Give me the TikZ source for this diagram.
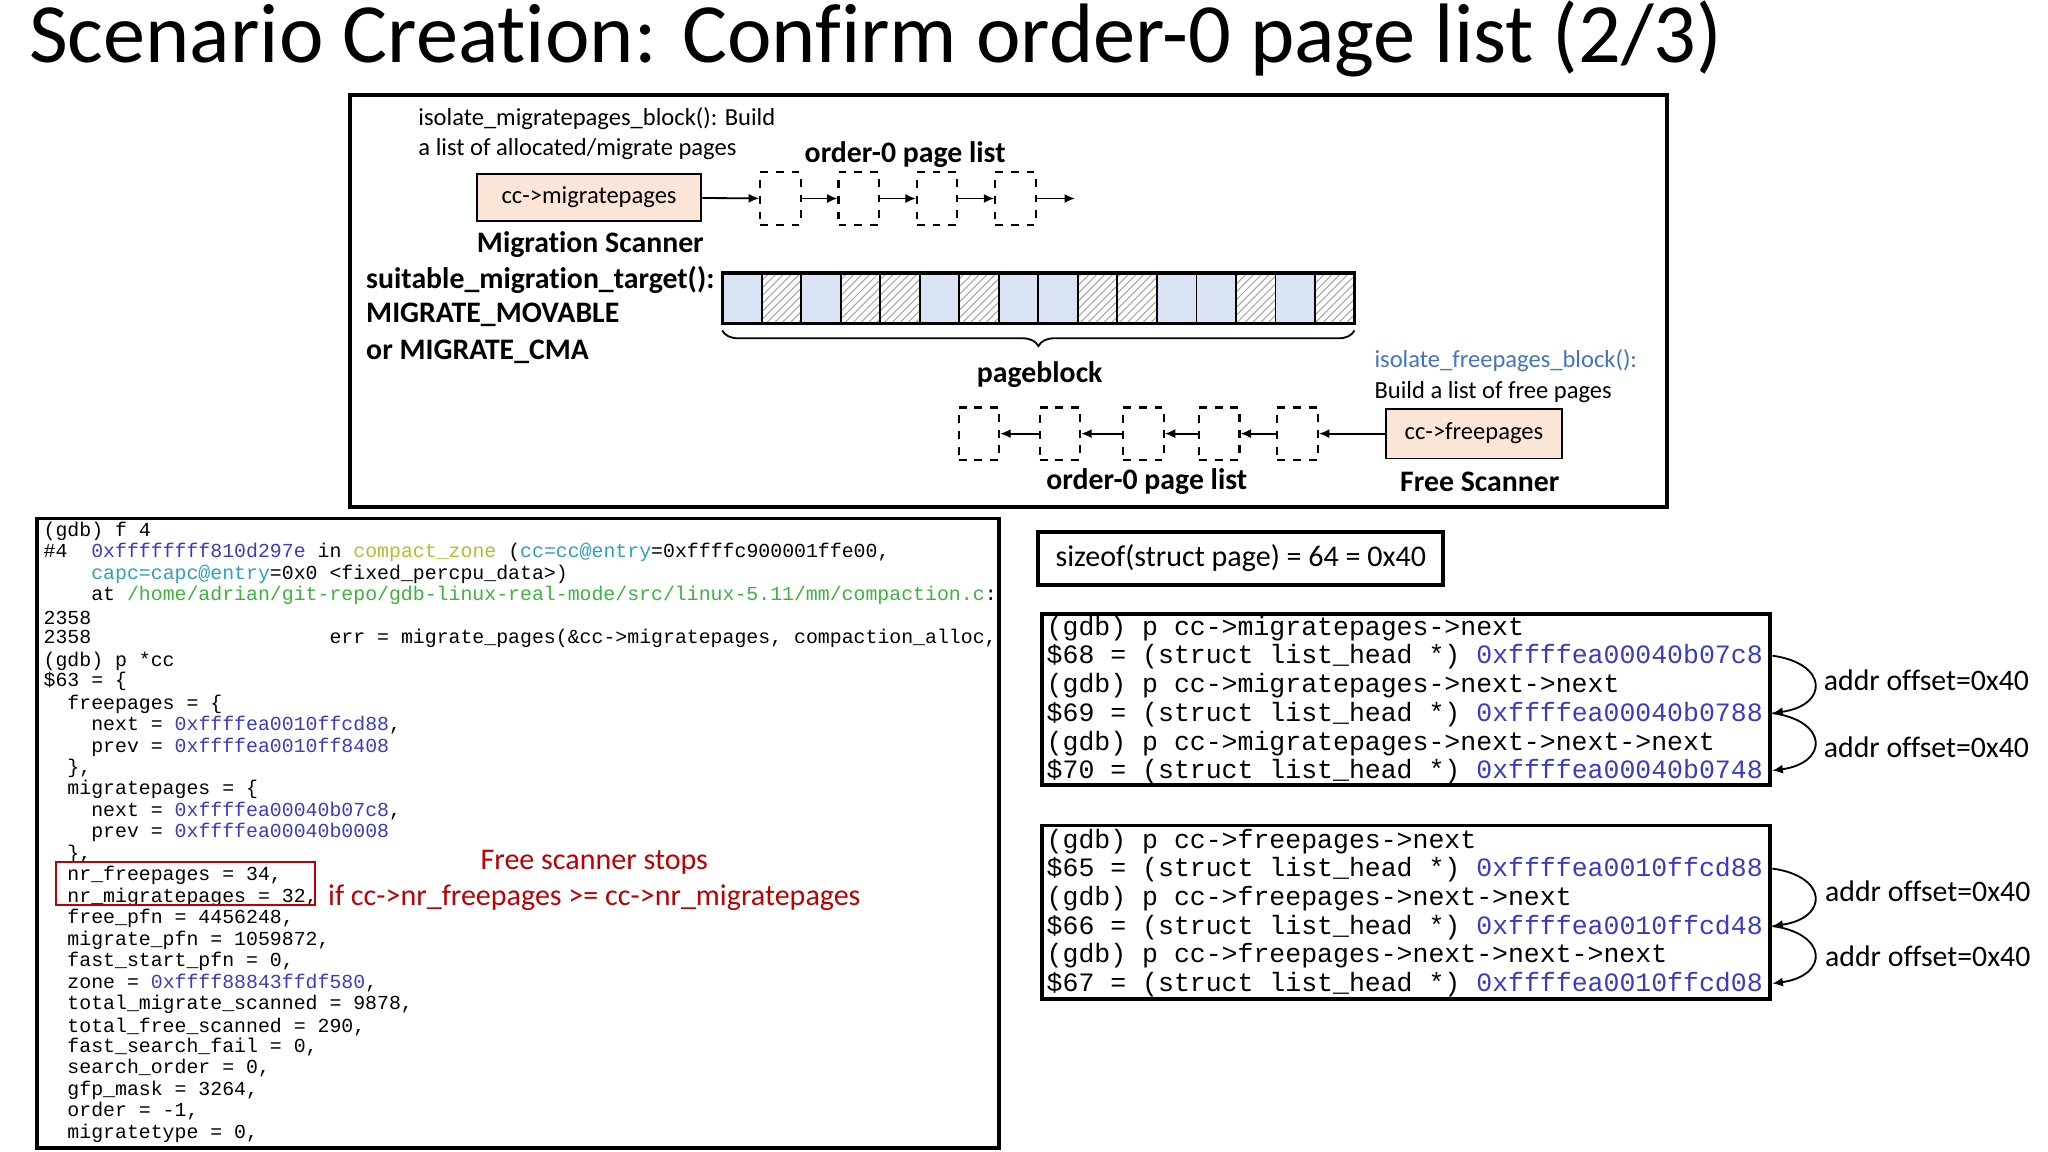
\documentclass[tikz,border=0pt]{standalone}
\usepackage{fontspec}
\setmainfont{Carlito}[Ligatures={NoCommon}]
\setmonofont{Liberation Mono}
\usetikzlibrary{arrows.meta,patterns,decorations.pathreplacing}
\definecolor{peach}{HTML}{FBE5D6}
\definecolor{cellblue}{HTML}{DAE3F3}
\definecolor{adblue}{HTML}{3A3AC8}
\definecolor{fnyel}{HTML}{BDB830}
\definecolor{argcy}{HTML}{2CA0C0}
\definecolor{pathgr}{HTML}{3CB43C}
\definecolor{dred}{HTML}{C00000}
\definecolor{fblue}{HTML}{4472C4}
\newcommand{\ad}[1]{\textcolor{adblue}{#1}}
\begin{document}
\begin{tikzpicture}[x=0.5pt,y=-0.5pt,
  frame/.style={draw,line width=1.5pt},
  lbl/.style={font=\fontsize{9.4}{10}\selectfont,inner sep=0},
  bl/.style={font=\fontsize{11.4}{12}\selectfont\bfseries,inner sep=0},
  pg/.style={draw,dashed,line width=0.8pt,minimum width=15.5pt,minimum height=20pt,inner sep=0},
  arr/.style={-{Latex[length=4pt,width=3.5pt]},line width=0.7pt},
  code/.style={anchor=west,inner sep=0,font=\fontsize{7.6}{8}\ttfamily},
  gdb/.style={anchor=west,inner sep=0,font=\fontsize{10.15}{11}\ttfamily},
  curv/.style={-{Latex[length=4pt,width=3.5pt]},line width=0.7pt},
  off/.style={anchor=west,inner sep=0,font=\fontsize{11.4}{12}\selectfont}]
\useasboundingbox (0,0) rectangle (1568,882);
% title
\node[anchor=west,inner sep=0,font=\fontsize{32.3}{34}\selectfont] (title) at (22,30) {Scenario Creation: Confirm order-0 page list (2/3)};
% top frame
\node[frame,minimum width=504pt,minimum height=157.5pt,inner sep=0] (top) at (772,230.5) {};
\node[lbl,anchor=west] (t1) at (320,91) {isolate\_migratepages\_block(): Build};
\node[lbl,anchor=west] (t2) at (320,114) {a list of allocated/migrate pages};
\node[draw,fill=peach,line width=0.7pt,minimum width=86pt,minimum height=18pt,inner sep=0,font=\fontsize{9.4}{10}\selectfont] (mp) at (451,151) {cc->migratepages};
\node[bl] (ol1) at (693,118) {order-0 page list};
\node[pg] (a1) at (597.5,152) {};
\node[pg] (a2) at (657.5,152) {};
\node[pg] (a3) at (717.5,152) {};
\node[pg] (a4) at (777.5,152) {};
\coordinate (aend) at (823,152);
\draw[arr] (mp) -- (a1);
\draw[arr] (a1) -- (a2);
\draw[arr] (a2) -- (a3);
\draw[arr] (a3) -- (a4);
\draw[arr] (a4) -- (aend);
\node[bl] (ms) at (452,187) {Migration Scanner};
\node[bl,anchor=west] (s1) at (280,214) {suitable\_migration\_target():};
\node[bl,anchor=west] (s2) at (280,241) {MIGRATE\_MOVABLE};
\node[bl,anchor=west] (s3) at (280,269) {or MIGRATE\_CMA};
% pageblock cells
\foreach \t [count=\i from 0] in {B,H,B,H,H,B,H,B,B,H,H,B,B,H,B,H}{
  \pgfmathsetmacro{\xa}{553+30.25*\i}
  \if\t B
    \draw[fill=cellblue,line width=0.7pt] (\xa,209) rectangle ++(30.25,39);
  \else
    \draw[pattern=north east lines,pattern color=gray!70,line width=0.7pt] (\xa,209) rectangle ++(30.25,39);
  \fi
}
\draw[line width=1.2pt] (553,209) rectangle (1037,248);
\coordinate (bl) at (553,253);
\coordinate (br) at (1037,253);
\draw[decorate,decoration={brace,amplitude=6pt,mirror},line width=0.7pt] (bl) -- (br);
\node[bl] (pbk) at (796,287) {pageblock};
\node[lbl,anchor=west,text=fblue] (f1) at (1052,276) {isolate\_freepages\_block():};
\node[lbl,anchor=west] (f2) at (1052,300) {Build a list of free pages};
\node[draw,fill=peach,line width=0.7pt,minimum width=67.5pt,minimum height=19pt,inner sep=0,font=\fontsize{9.4}{10}\selectfont] (fp) at (1128.5,332) {cc->freepages};
\node[pg] (b1) at (749.5,332) {};
\node[pg] (b2) at (811.5,332) {};
\node[pg] (b3) at (875.5,332) {};
\node[pg] (b4) at (933.5,332) {};
\node[pg] (b5) at (993.5,332) {};
\draw[arr] (fp) -- (b5);
\draw[arr] (b5) -- (b4);
\draw[arr] (b4) -- (b3);
\draw[arr] (b3) -- (b2);
\draw[arr] (b2) -- (b1);
\node[bl] (ol2) at (878,369) {order-0 page list};
\node[bl] (fs) at (1133,369) {Free Scanner};
% code frame
\node[frame,minimum width=368.5pt,minimum height=241pt,inner sep=0] (cf) at (396.5,638) {};
\foreach \yy/\tx in {
 407/{(gdb) f 4},
 423/{\#4\ \ \ad{0xffffffff810d297e} in \textcolor{fnyel}{compact\_zone} (\textcolor{argcy}{cc=cc@entry}=0xffffc900001ffe00,},
 440/{\ \ \ \ \textcolor{argcy}{capc=capc@entry}=0x0 <fixed\_percpu\_data>)},
 456/{\ \ \ \ at \textcolor{pathgr}{/home/adrian/git-repo/gdb-linux-real-mode/src/linux-5.11/mm/compaction.c}:},
 473/{2358},
 489/{2358\ \ \ \ \ \ \ \ \ \ \ \ \ \ \ \ \ \ \ \ err = migrate\_pages(\&cc->migratepages, compaction\_alloc,},
 506/{(gdb) p *cc},
 522/{\$63 = \{},
 539/{\ \ freepages = \{},
 555/{\ \ \ \ next = \ad{0xffffea0010ffcd88},},
 572/{\ \ \ \ prev = \ad{0xffffea0010ff8408}},
 588/{\ \ \},},
 604/{\ \ migratepages = \{},
 621/{\ \ \ \ next = \ad{0xffffea00040b07c8},},
 637/{\ \ \ \ prev = \ad{0xffffea00040b0008}},
 654/{\ \ \},},
 670/{\ \ nr\_freepages = 34,},
 687/{\ \ nr\_migratepages = 32,},
 703/{\ \ free\_pfn = 4456248,},
 720/{\ \ migrate\_pfn = 1059872,},
 736/{\ \ fast\_start\_pfn = 0,},
 753/{\ \ zone = \ad{0xffff88843ffdf580},},
 769/{\ \ total\_migrate\_scanned = 9878,},
 786/{\ \ total\_free\_scanned = 290,},
 802/{\ \ fast\_search\_fail = 0,},
 818/{\ \ search\_order = 0,},
 835/{\ \ gfp\_mask = 3264,},
 851/{\ \ order = -1,},
 868/{\ \ migratetype = 0,}}{
  \node[code] at (33,\yy) {\tx};
}
\node[draw=dred,line width=0.8pt,minimum width=99pt,minimum height=16.5pt,inner sep=0] (rb) at (142,676.5) {};
\node[inner sep=0,text=dred,font=\fontsize{11.5}{12}\selectfont] (r1) at (455,660) {Free scanner stops};
\node[inner sep=0,text=dred,font=\fontsize{11.5}{12}\selectfont] (r2) at (455,687) {if cc->nr\_freepages >= cc->nr\_migratepages};
% sizeof
\node[frame,minimum width=155pt,minimum height=20.5pt,inner sep=0,font=\fontsize{11.5}{12}\selectfont] (sz) at (950,427.5) {sizeof(struct page) = 64 = 0x40};
% gdb box 1
\node[frame,minimum width=278.5pt,minimum height=65.5pt,inner sep=0] (g1) at (1076.5,535.5) {};
\foreach \yy/\tx in {
 481/{(gdb) p cc->migratepages->next},
 503/{\$68 = (struct list\_head *) \ad{0xffffea00040b07c8}},
 525/{(gdb) p cc->migratepages->next->next},
 547/{\$69 = (struct list\_head *) \ad{0xffffea00040b0788}},
 569/{(gdb) p cc->migratepages->next->next->next},
 591/{\$70 = (struct list\_head *) \ad{0xffffea00040b0748}}}{
  \node[gdb] at (801,\yy) {\tx};
}
\node[frame,minimum width=278.5pt,minimum height=66.5pt,inner sep=0] (g2) at (1076.5,698.5) {};
\foreach \yy/\tx in {
 644/{(gdb) p cc->freepages->next},
 666/{\$65 = (struct list\_head *) \ad{0xffffea0010ffcd88}},
 688/{(gdb) p cc->freepages->next->next},
 710/{\$66 = (struct list\_head *) \ad{0xffffea0010ffcd48}},
 732/{(gdb) p cc->freepages->next->next->next},
 754/{\$67 = (struct list\_head *) \ad{0xffffea0010ffcd08}}}{
  \node[gdb] at (801,\yy) {\tx};
}
% offset arrows
\coordinate (p1) at (1357,502);
\coordinate (p2) at (1357,546);
\coordinate (p3) at (1357,590);
\coordinate (q1) at (1357,665);
\coordinate (q2) at (1357,709);
\coordinate (q3) at (1357,753);
\draw[curv] (p1) .. controls (1400,508) and (1400,540) .. (p2);
\draw[curv] (p2) .. controls (1400,552) and (1400,584) .. (p3);
\draw[curv] (q1) .. controls (1400,671) and (1400,703) .. (q2);
\draw[curv] (q2) .. controls (1400,715) and (1400,747) .. (q3);
\node[off] (o1) at (1396,521) {addr offset=0x40};
\node[off] (o2) at (1396,572) {addr offset=0x40};
\node[off] (o3) at (1397,682) {addr offset=0x40};
\node[off] (o4) at (1397,732) {addr offset=0x40};
\end{tikzpicture}
\end{document}
